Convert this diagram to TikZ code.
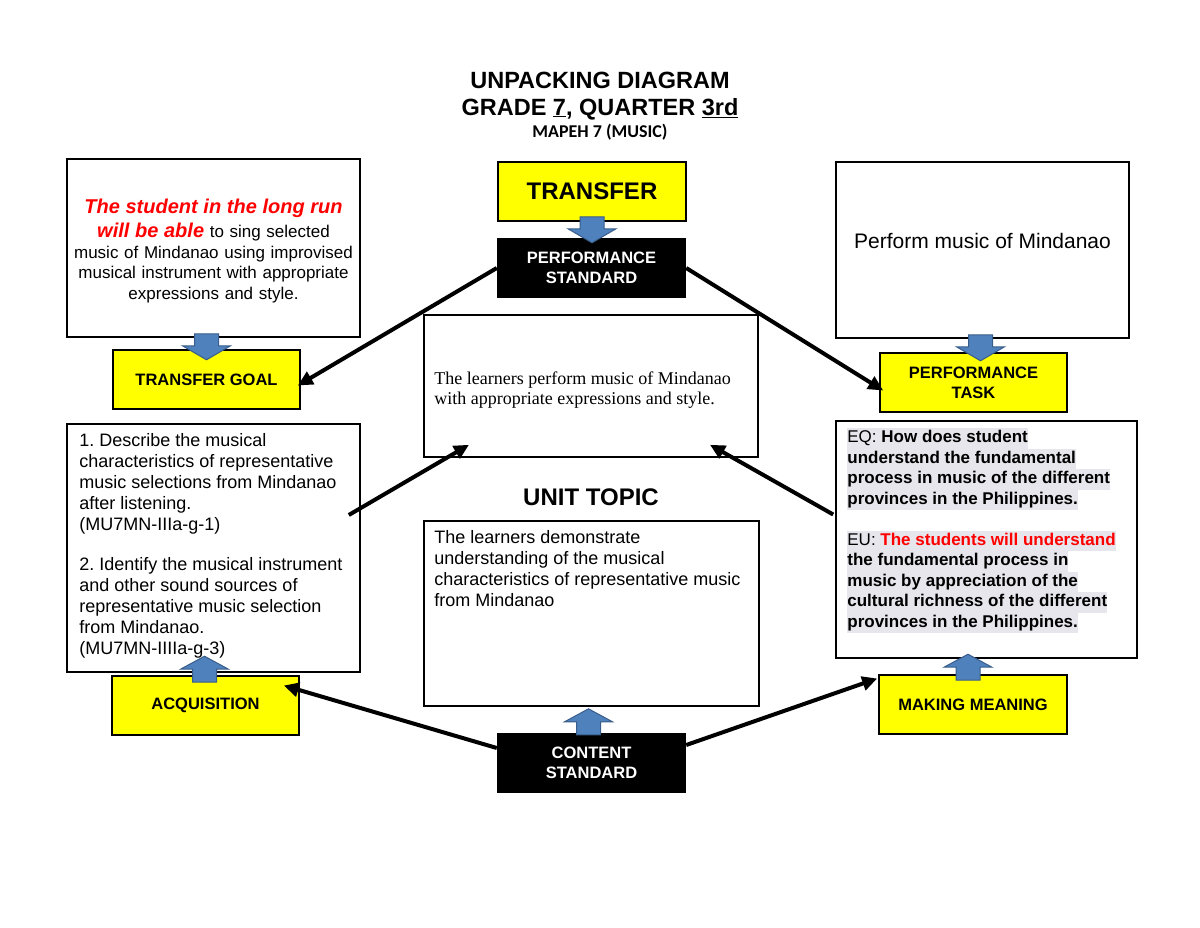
\documentclass[tikz,border=0pt]{standalone}
\usepackage{fontspec}
\setmainfont{Liberation Sans}
\newfontfamily\timesfont{Liberation Serif}
\newfontfamily\calibfont{Carlito}
\usetikzlibrary{arrows.meta,calc}
\definecolor{boxyellow}{HTML}{FFFF00}
\definecolor{arrowblue}{HTML}{4F81BD}
\definecolor{arrowedge}{HTML}{385D8A}
\definecolor{hlgray}{HTML}{E6E6EC}
\newcommand{\fsz}[2]{\fontsize{#1}{#2}\selectfont}
\newcommand{\hlt}[1]{{\setlength{\fboxsep}{0pt}\colorbox{hlgray}{\strut #1}}}
\frenchspacing

\begin{document}
\begin{tikzpicture}[x=1pt,y=-1pt,
  plainbox/.style={draw=black,line width=1.6pt,fill=white,inner sep=0pt},
  yellowbox/.style={draw=black,line width=1.6pt,fill=boxyellow,inner sep=0pt,
    font=\bfseries\fsz{16.5}{20},align=center,minimum width=187pt,minimum height=59pt},
  blackbox/.style={fill=black,text=white,inner sep=0pt,
    font=\bfseries\fsz{16.5}{20},align=center,minimum width=189pt,minimum height=60pt},
  linkarrow/.style={line width=4pt,-{Triangle[length=15pt,width=14pt]}},
  blockarrow/.style={fill=arrowblue,draw=arrowedge,line width=1pt},
  pics/blockdown/.style={code={
    \draw[blockarrow] (-12,0) -- (12,0) -- (12,12) -- (24,12) -- (0,26) -- (-24,12) -- (-12,12) -- cycle;}},
  pics/blockup/.style={code={
    \draw[blockarrow] (-12,0) -- (12,0) -- (12,-13) -- (24,-13) -- (0,-26) -- (-24,-13) -- (-12,-13) -- cycle;}}]
\useasboundingbox (0,0) rectangle (1200,927);

% title
\node (title1) at (600,80) {\bfseries\fsz{23.5}{26}UNPACKING DIAGRAM};
\node (title2) at (600,109) {\bfseries\fsz{23.5}{26}GRADE \underline{7}, QUARTER \underline{3rd}};
\node (title3) at (600,132) {\calibfont\bfseries\fsz{18}{20}MAPEH 7 (MUSIC)};

% left column
\node[plainbox,minimum width=293pt,minimum height=178pt] (ltop) at (213.5,248) {};
\node[text width=285pt,align=center,inner sep=0pt,font=\fsz{17}{20.5}] (ltoptext) at ($(ltop.center)+(0,3)$)
  {{\color{red}\bfseries\itshape\fsz{20}{22}The student in the long run\\[4pt] will be able} to sing selected\\
   music of Mindanao using improvised\\ musical instrument with appropriate\\ expressions and style.};
\node[yellowbox] (tgoal) at (206.5,379.5) {TRANSFER GOAL};
\node[plainbox,minimum width=293pt,minimum height=248pt] (lmid) at (213.5,548) {};
\node[anchor=north west,inner sep=0pt,align=left,font=\fsz{18}{21}] (lmidtext) at ($(lmid.north west)+(13,10)$)
  {1. Describe the musical\\ characteristics of representative\\ music selections from Mindanao\\ after listening.\\ (MU7MN-IIIa-g-1)\\[19pt]
   2. Identify the musical instrument\\ and other sound sources of\\ representative music selection\\ from Mindanao.\\ (MU7MN-IIIIa-g-3)};
\node[yellowbox] (acq) at (205.5,705.5) {ACQUISITION};

% centre column
\node[yellowbox,minimum width=188pt,font=\bfseries\fsz{24}{26}] (transfer) at (592,191.5) {TRANSFER};
\node[blackbox] (perfstd) at (591.5,268) {PERFORMANCE\\ STANDARD};
\node[plainbox,minimum width=334pt,minimum height=142pt] (ctop) at (591,386) {};
\node[anchor=west,inner sep=0pt,align=left,font=\timesfont\fsz{18}{20}] (ctoptext) at ($(ctop.west)+(11,4)$)
  {The learners perform music of Mindanao\\ with appropriate expressions and style.};
\node[font=\bfseries\fsz{24}{26}] (unit) at (591,497) {UNIT TOPIC};
\node[plainbox,minimum width=335pt,minimum height=185pt] (cbot) at (591.5,613.5) {};
\node[anchor=north west,inner sep=0pt,align=left,font=\fsz{18}{21}] (cbottext) at ($(cbot.north west)+(11,10)$)
  {The learners demonstrate\\ understanding of the musical\\ characteristics of representative music\\ from Mindanao};
\node[blackbox] (constd) at (591.5,763) {CONTENT\\ STANDARD};

% right column
\node[plainbox,minimum width=293pt,minimum height=176pt] (rtop) at (982.5,250) {};
\node[font=\fsz{21}{24}] (rtoptext) at ($(rtop.center)+(0,-9)$) {Perform music of Mindanao};
\node[yellowbox] (ptask) at (973.5,382.5) {PERFORMANCE\\ TASK};
\node[plainbox,minimum width=301pt,minimum height=237pt] (rmid) at (986.5,539.5) {};
\node[anchor=north west,inner sep=0pt,align=left,font=\fsz{17}{20.5}] (rmidtext) at ($(rmid.north west)+(12,8)$)
  {\hlt{EQ: \textbf{How does student}}\\ \hlt{\textbf{understand the fundamental}}\\
   \hlt{\textbf{process in music of the different}}\\ \hlt{\textbf{provinces in the Philippines.}}\\[20.5pt]
   \hlt{EU: \textbf{\color{red}The students will understand}}\\ \hlt{\textbf{the fundamental process in}}\\
   \hlt{\textbf{music by appreciation of the}}\\ \hlt{\textbf{cultural richness of the different}}\\
   \hlt{\textbf{provinces in the Philippines.}}};
\node[yellowbox,minimum width=188pt] (mmean) at (973,704.5) {MAKING MEANING};

% black connectors
\draw[linkarrow] (perfstd.west) -- ($(tgoal.east)+(-3,6)$);
\draw[linkarrow] (perfstd.east) -- ($(ptask.west)+(4,8)$);
\draw[linkarrow] ($(lmid.east)+(-12,-33)$) -- ($(ctop.south)+(-122,-13)$);
\draw[linkarrow] ($(rmid.west)+(-2,-25)$) -- ($(ctop.south)+(119,-13)$);
\draw[linkarrow] ($(constd.west)+(0,-15)$) -- ($(acq.east)+(-16,-20)$);
\draw[linkarrow] ($(constd.east)+(0,-18)$) -- ($(mmean.west)+(-1,-26)$);

% blue block arrows
\pic at ($(transfer.south)+(0,-5)$) {blockdown};
\pic at ($(ltop.south)+(-7,-4)$) {blockdown};
\pic at ($(rtop.south)+(-2,-4)$) {blockdown};
\pic at ($(acq.north)+(-1,7)$) {blockup};
\pic at ($(constd.north)+(-3,2)$) {blockup};
\pic at ($(mmean.north)+(-5,6)$) {blockup};
\end{tikzpicture}
\end{document}
